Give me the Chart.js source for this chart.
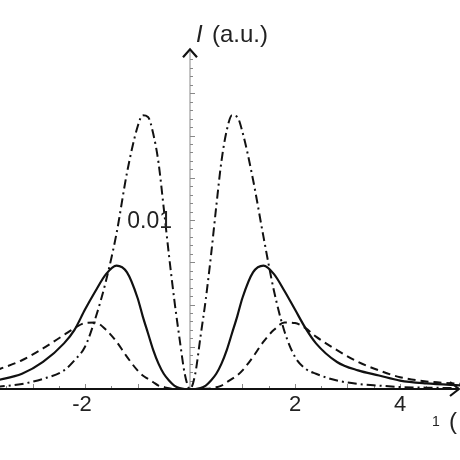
<!DOCTYPE html>
<html>
<head>
<meta charset="utf-8">
<script src="https://cdn.jsdelivr.net/npm/chart.js@4"></script>
<style>
  html, body { margin: 0; padding: 0; background: #fff; }
  #wrap { width: 460px; height: 460px; }
</style>
</head>
<body>
<div id="wrap"><canvas id="plot" width="460" height="460"></canvas></div>
<script>
// x positions (shared by all three curves)
const xs = [-3.7, -3.2, -2.8, -2.4, -2.2, -2.0, -1.8, -1.6, -1.4, -1.2, -1.0, -0.9, -0.8, -0.7, -0.6, -0.5, -0.4, -0.3, -0.2, -0.1,
  0,
  0.1, 0.2, 0.3, 0.4, 0.5, 0.6, 0.7, 0.8, 0.9, 1.0, 1.2, 1.4, 1.6, 1.8, 2.0, 2.2, 2.4, 2.8, 3.2, 3.6, 4.0, 4.5, 5.2];

// intensity, solid curve
const solidI = [0.0005, 0.0009, 0.0016, 0.0027, 0.0035, 0.0047, 0.0058, 0.0068, 0.0073, 0.0069, 0.0054, 0.0043, 0.0033, 0.0023, 0.0015, 0.0009, 0.0005, 0.0002, 0.00005, 0,
  0,
  0, 0.00005, 0.0002, 0.0005, 0.0009, 0.0015, 0.0023, 0.0033, 0.0043, 0.0054, 0.0069, 0.0073, 0.0068, 0.0058, 0.0047, 0.0036, 0.0027, 0.0016, 0.0011, 0.0008, 0.0005, 0.00033, 0.0002];

// intensity, dashed curve
const dashedI = [0.0011, 0.0017, 0.0024, 0.0032, 0.0036, 0.0039, 0.00393, 0.0035, 0.0028, 0.0019, 0.0011, 0.0008, 0.0006, 0.0004, 0.0002, 0.0001, 0.00004, 0.00001, 0, 0,
  0,
  0, 0, 0.00001, 0.00004, 0.0001, 0.0002, 0.0004, 0.0006, 0.0008, 0.0011, 0.0019, 0.0028, 0.0035, 0.00393, 0.0039, 0.0036, 0.0031, 0.0023, 0.0016, 0.0011, 0.0007, 0.00045, 0.0003];

// intensity, dash-dot curve
const dashDotI = [0.00012, 0.0003, 0.0006, 0.0011, 0.0017, 0.0025, 0.0042, 0.0064, 0.0092, 0.0128, 0.0155, 0.0162, 0.0161, 0.0151, 0.0134, 0.0107, 0.0079, 0.0053, 0.0030, 0.0009,
  0,
  0.0009, 0.0031, 0.0053, 0.0079, 0.0108, 0.0135, 0.0153, 0.0162, 0.0161, 0.0152, 0.0124, 0.0090, 0.0058, 0.0034, 0.0019, 0.0012, 0.0009, 0.0005, 0.0003, 0.0002, 0.00012, 0.00008, 0.00005];

// axis ticks and labels
const xTickLabels = [-2, 2, 4];
const yTickLabel = 0.01;
const yTop = 0.0201;

const font = "'Liberation Sans', Arial, sans-serif";

const toPoints = (vals) => xs.map((x, i) => ({ x: x, y: vals[i] }));

// axes drawn by hand, positioned through the chart scales
const axesPlugin = {
  id: "axes",
  beforeDatasetsDraw(chart) {
    const c = chart.ctx;
    const xS = chart.scales.x;
    const yS = chart.scales.y;
    const x0 = xS.getPixelForValue(0);
    const y0 = yS.getPixelForValue(0);
    const yT = yS.getPixelForValue(yTop);
    c.save();
    // y axis (thin grey)
    c.strokeStyle = "#888";
    c.lineWidth = 1;
    c.beginPath();
    c.moveTo(x0, y0);
    c.lineTo(x0, yT + 2);
    c.stroke();
    for (let i = 1; i <= 39; i++) {
      const py = Math.round(yS.getPixelForValue(i * 0.0005)) + 0.5;
      c.beginPath();
      c.moveTo(x0, py);
      c.lineTo(x0 + (i % 5 === 0 ? 5 : 3), py);
      c.stroke();
    }
    // x axis ticks
    for (let v = -3.5; v <= 4.5; v += 0.5) {
      if (v === 0) continue;
      const px = Math.round(xS.getPixelForValue(v)) + 0.5;
      c.beginPath();
      c.moveTo(px, y0);
      c.lineTo(px, y0 - (Number.isInteger(v) ? 5 : 3));
      c.stroke();
    }
    c.restore();
  },
  afterDraw(chart) {
    const c = chart.ctx;
    const xS = chart.scales.x;
    const yS = chart.scales.y;
    const x0 = xS.getPixelForValue(0);
    const y0 = yS.getPixelForValue(0);
    const yT = yS.getPixelForValue(yTop);
    const right = chart.chartArea.right;
    c.save();
    // x axis (black)
    c.strokeStyle = "#111";
    c.lineWidth = 2;
    c.beginPath();
    c.moveTo(0, y0);
    c.lineTo(right - 1, y0);
    c.stroke();
    // arrow heads
    c.lineWidth = 2.2;
    c.beginPath();
    c.moveTo(right - 10, y0 - 7);
    c.lineTo(right - 1, y0);
    c.lineTo(right - 10, y0 + 7);
    c.stroke();
    c.beginPath();
    c.moveTo(x0 - 7, yT + 8);
    c.lineTo(x0, yT);
    c.lineTo(x0 + 7, yT + 8);
    c.stroke();
    // labels
    c.fillStyle = "#222";
    c.textAlign = "center";
    c.textBaseline = "alphabetic";
    c.font = "22px " + font;
    xTickLabels.forEach((v) => {
      const px = xS.getPixelForValue(v) - (v < 0 ? 3 : 0);
      c.fillText(String(v), px, y0 + 22);
    });
    c.font = "23px " + font;
    c.textAlign = "right";
    c.fillText(String(yTickLabel), x0 - 18, yS.getPixelForValue(yTickLabel) + 8);
    // y axis title
    c.textAlign = "left";
    c.font = "italic 24px " + font;
    c.fillText("I", x0 + 6, 42);
    c.font = "24px " + font;
    c.fillText("(a.u.)", x0 + 22, 42);
    // cut-off x axis title
    c.font = "14px " + font;
    c.fillText("1", 432, 426);
    c.font = "24px " + font;
    c.fillText("(", 449, 429);
    c.restore();
  },
};

new Chart(document.getElementById("plot").getContext("2d"), {
  type: "line",
  data: {
    datasets: [
      {
        data: toPoints(dashDotI),
        borderColor: "#111",
        borderWidth: 2,
        borderDash: [9, 4, 2, 4],
      },
      {
        data: toPoints(dashedI),
        borderColor: "#111",
        borderWidth: 2,
        borderDash: [8, 5],
      },
      {
        data: toPoints(solidI),
        borderColor: "#111",
        borderWidth: 2.2,
      },
    ],
  },
  options: {
    responsive: false,
    animation: false,
    devicePixelRatio: 1,
    layout: { padding: 0 },
    elements: {
      point: { radius: 0 },
      line: { cubicInterpolationMode: "monotone", fill: false },
    },
    plugins: { legend: { display: false }, tooltip: { enabled: false } },
    scales: {
      x: { type: "linear", display: false, min: -190 / 52.5, max: 270 / 52.5 },
      y: { type: "linear", display: false, min: -71 / 16900, max: 389 / 16900 },
    },
  },
  plugins: [axesPlugin],
});
</script>
</body>
</html>
